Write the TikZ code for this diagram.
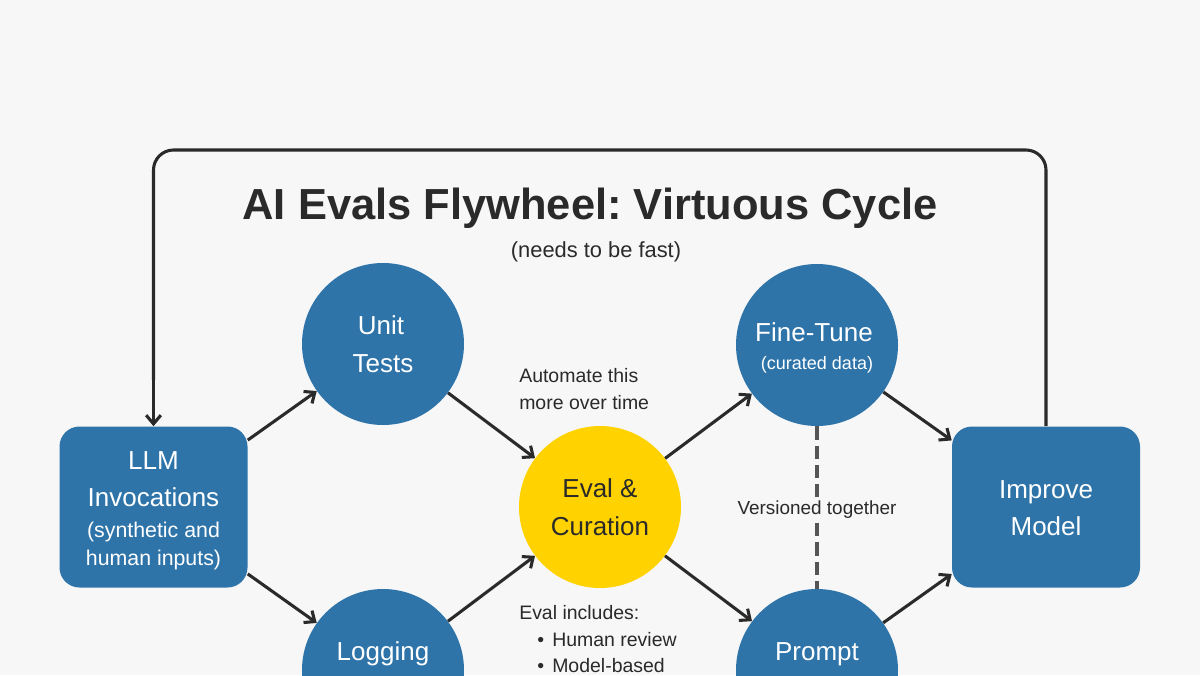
\documentclass[tikz,border=0pt]{standalone}
\usepackage{fontspec}
\setmainfont{Liberation Sans}
\usetikzlibrary{arrows.meta}
\frenchspacing
\definecolor{bg}{HTML}{F7F7F7}
\definecolor{nblue}{HTML}{2E74A9}
\definecolor{nyellow}{HTML}{FFD200}
\definecolor{ink}{HTML}{2A2A2A}
\definecolor{dashgray}{HTML}{555555}
\tikzset{
  circ/.style={circle, fill=nblue, minimum size=121.5pt, inner sep=0pt},
  ycirc/.style={circle, fill=nyellow, minimum size=121.5pt, inner sep=0pt},
  bbox/.style={rectangle, rounded corners=15pt, fill=nblue, minimum width=141pt, minimum height=120.75pt, inner sep=0pt},
  wtxt/.style={text=white, anchor=base, inner sep=0pt, font=\fontsize{19.5}{23}\selectfont},
  wsub/.style={text=white, anchor=base, inner sep=0pt, font=\fontsize{16}{19}\selectfont},
  note/.style={text=ink, anchor=base west, inner sep=0pt, font=\fontsize{14.6}{18}\selectfont},
  wire/.style={draw=ink, line width=2.3pt, line join=round},
  flow/.style={wire, -{Straight Barb[length=6.5pt,width=11pt]}},
}
\begin{document}
\begin{tikzpicture}[x=0.75pt,y=-0.75pt]
\fill[bg] (0,0) rectangle (1200,675);
\useasboundingbox (0,0) rectangle (1200,675);
\clip (0,0) rectangle (1200,675);

% nodes
\node[bbox] (llm) at (153.5,507) {};
\node[circ] (unit) at (383,344) {};
\node[circ] (log) at (383,670) {};
\node[ycirc] (eval) at (600,507) {};
\node[circ] (ft) at (817,345) {};
\node[circ] (pr) at (817,670) {};
\node[bbox] (imp) at (1046,507) {};

% feedback loop
\coordinate (lt) at (153.5,150);
\coordinate (rt) at (1046,150);
\coordinate (ld) at (153.5,380);
\draw[wire, rounded corners=15pt] (imp.north) -- (rt) -- (lt) -- (ld);
\draw[flow] (ld) -- (llm.north);

% title
\node[text=ink, anchor=base, inner sep=0pt, font=\fontsize{32.6}{36}\selectfont\bfseries] (title) at (590,219) {AI Evals Flywheel: Virtuous Cycle};
\node[text=ink, anchor=base, inner sep=0pt, font=\fontsize{16.4}{20}\selectfont] (sub) at (596,257) {(needs to be fast)};

% node texts
\node[wtxt] (llmA) at (153.5,469) {LLM};
\node[wtxt] (llmB) at (153.5,506) {Invocations};
\node[wsub] (llmC) at (153.5,537) {(synthetic and};
\node[wsub] (llmD) at (153.5,565) {human inputs)};
\node[wtxt] (unitA) at (381,334) {Unit};
\node[wtxt] (unitB) at (383,372) {Tests};
\node[wtxt] (logA) at (383,660) {Logging};
\node[wtxt, text=ink] (evalA) at (600,497) {Eval \&};
\node[wtxt, text=ink] (evalB) at (600,535) {Curation};
\node[wtxt] (ftA) at (814,341) {Fine-Tune};
\node[text=white, anchor=base, inner sep=0pt, font=\fontsize{13.5}{16}\selectfont] (ftB) at (817,369) {(curated data)};
\node[wtxt] (prA) at (817,660) {Prompt};
\node[wtxt] (impA) at (1046,498) {Improve};
\node[wtxt] (impB) at (1046,535) {Model};

% arrows
\draw[flow] (llm) -- (unit);
\draw[flow] (llm) -- (log);
\draw[flow] (unit) -- (eval);
\draw[flow] (log) -- (eval);
\draw[flow] (eval) -- (ft);
\draw[flow] (eval) -- (pr);
\draw[flow] (ft) -- (imp);
\draw[flow] (pr) -- (imp);

% versioned together
\draw[dashgray, line width=2.4pt, dash pattern=on 10pt off 4.5pt] (ft.south) -- (pr.north);
\node[fill=bg, text=ink, inner sep=3pt, font=\fontsize{14.2}{17}\selectfont] (ver) at (817,510) {Versioned together};

% annotations
\node[note] (autoA) at (519,382) {Automate this};
\node[note] (autoB) at (519,409) {more over time};
\node[note] (incl) at (519,619) {Eval includes:};
\node[note] (b1a) at (537,646) {\textbullet};
\node[note] (b1) at (552,646) {Human review};
\node[note] (b2a) at (537,672) {\textbullet};
\node[note] (b2) at (552,672) {Model-based};
\end{tikzpicture}
\end{document}
